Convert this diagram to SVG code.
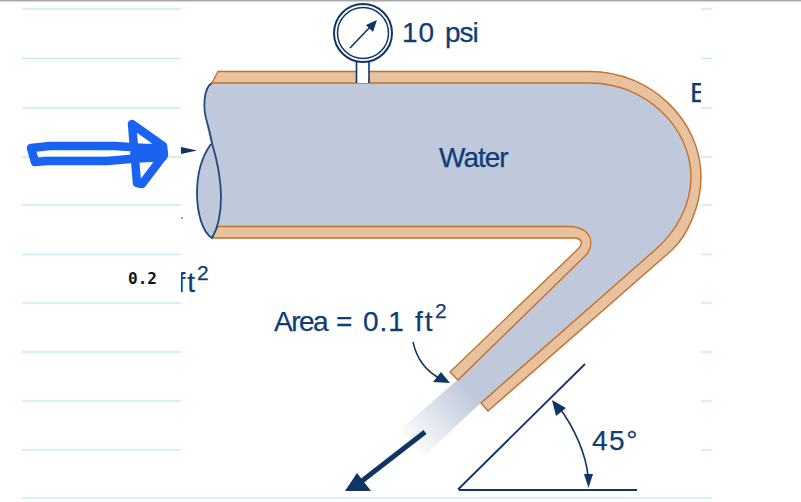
<svg xmlns="http://www.w3.org/2000/svg" width="801" height="502" viewBox="0 0 801 502">
<style>
.rule{stroke:#c9ebf8;stroke-width:1.5;fill:none}
.wall{fill:#e8c29f;stroke:#c4702e;stroke-width:1.4}
.ink{stroke:#0f3564;fill:none}
.head{fill:#0f3564}
.lbl{font-family:"Liberation Sans",Arial,sans-serif;fill:#0f3d75;font-size:28px;stroke:#0f3d75;stroke-width:.25}
.sup{font-size:21px}
.hand{fill:none;stroke:#1a63f0;stroke-width:8.500;stroke-linejoin:round;stroke-linecap:round}
</style>
<defs>
<linearGradient id="jet" gradientUnits="userSpaceOnUse" x1="470" y1="391" x2="408" y2="447">
<stop offset="0" stop-color="#bfc9db"/><stop offset="1" stop-color="#bfc9db" stop-opacity="0"/>
</linearGradient>
<clipPath id="clipFt"><rect x="181" y="255" width="60" height="50"/></clipPath>
<clipPath id="clipE"><rect x="680" y="70" width="21" height="50"/></clipPath>
</defs>
<rect width="801" height="502" fill="#fff"/>
<rect width="801" height="1.5" fill="#aaa"/>
<g id="ruled-lines">
<path class="rule" d="M22 9H181M22 58.500H181M22 108H181M22 157H181M22 205H181M22 254.500H181M22 303H181M22 352H181M22 401H181M22 450H181M22 498H712M701 9H712M701 58.500H712M701 108H712M701 157H712M701 205H712M701 254.500H712M701 303H712M701 352H712M701 401H712M701 450H712"/>
</g>
<g id="pipe">
<path id="jet-flow" d="M462 376L485 399L423 457L400 430Z" fill="url(#jet)"/>
<path id="water" fill="#bfc9db" d="M212 83H590C645 83 691 127 691 177C691 205 676 232 655 250L481 403L458 380L590 250Q596 238 585 231Q578 226 570 226H218L212 238C202 232 197 212 197 193C197 172 203 155 211 144C205 125 201 90 212 83Z"/>
<path class="wall" id="wall-outer" d="M212 83L218 71.500H590C650 71.500 701 120 701 177C701 205 688 235 672 250L488 411L481 403L655 250C676 232 691 205 691 177C691 127 645 83 590 83Z"/>
<path class="wall" id="wall-inner" d="M212 238L218 226.500H570Q578 226.500 585 231Q596 240 587 254L458 380L450 372L577 250Q583 244 581 241Q579 238 575 238Z"/>
<path id="cut-end" fill="none" stroke="#23497a" stroke-width="1.800" d="M212 83C203 88 203 110 207 122C210 132 211 138 212 143C217 160 221 178 221 197C221 215 218 228 212 238C202 232 197 212 197 193C197 172 203 155 211 144"/>
</g>
<g id="gauge">
<rect x="356.500" y="62" width="12.500" height="21" fill="#fff"/>
<path class="ink" stroke-width="1.600" d="M356.500 62V83M369 62V83"/>
<circle class="ink" cx="363" cy="33" r="29" stroke-width="2" fill="#fff"/>
<circle class="ink" cx="363" cy="33" r="25.500" stroke-width="1.500"/>
<path class="ink" stroke-width="1.600" d="M350 48L372 25"/>
<path class="head" d="M377 20L373 32L366 25Z"/>
</g>
<g id="connectors">
<path class="head" d="M181 147L197 150.500L181 154Z"/>
<circle class="head" cx="182" cy="218" r="0.800"/>
<path class="ink" stroke-width="1.500" d="M413 342C417 360 427 372 441 379"/>
<path class="head" d="M450 383L433 382L441 372Z"/>
<path class="ink" stroke-width="5" d="M425 432L358 484"/>
<path class="head" d="M345 491L357 473L371 491Z"/>
<path class="ink" stroke-width="1.800" d="M458 489.500L585 364"/>
<path class="ink" stroke-width="2" d="M459 490H637"/>
<path class="ink" stroke-width="1.600" d="M558 406C575 428 586 455 588 476"/>
<path class="head" d="M552 400L566 408L556 416Z"/>
<path class="head" d="M588.500 488L584 474H593Z"/>
</g>
<g id="labels">
<text class="lbl" y="42"><tspan x="402" letter-spacing="1">10</tspan> <tspan x="445" letter-spacing="-1">psi</tspan></text>
<text class="lbl" x="439" y="167" letter-spacing="-1">Water</text>
<text class="lbl" y="331"><tspan x="274" letter-spacing="-1.500">Area</tspan> <tspan x="336">=</tspan> <tspan x="363" letter-spacing="1">0.1</tspan> <tspan x="415" letter-spacing="2">ft</tspan></text>
<text class="lbl sup" x="435" y="318">2</text>
<text class="lbl" x="592" y="450" letter-spacing="1.500">45°</text>
<g clip-path="url(#clipE)"><text class="lbl" x="690" y="102">E</text></g>
<g clip-path="url(#clipFt)"><text class="lbl" x="177.500" y="292" letter-spacing="2">ft</text></g>
<text class="lbl sup" x="197" y="280">2</text>
<text x="128" y="284" font-family="DejaVu Sans Mono,monospace" font-size="16" font-weight="700" fill="#111">0.2</text>
</g>
<g id="hand-arrow">
<path class="hand" d="M31 148L50 146H115L145 148H163M31 148L35 162L47 161H107L130 159L163 157M132 124L163 146L164 155L142 184L137 183L132 124Z"/>
<path d="M130 146L160 143L164 158L134 162Z" fill="#1a63f0"/>
</g>
</svg>
